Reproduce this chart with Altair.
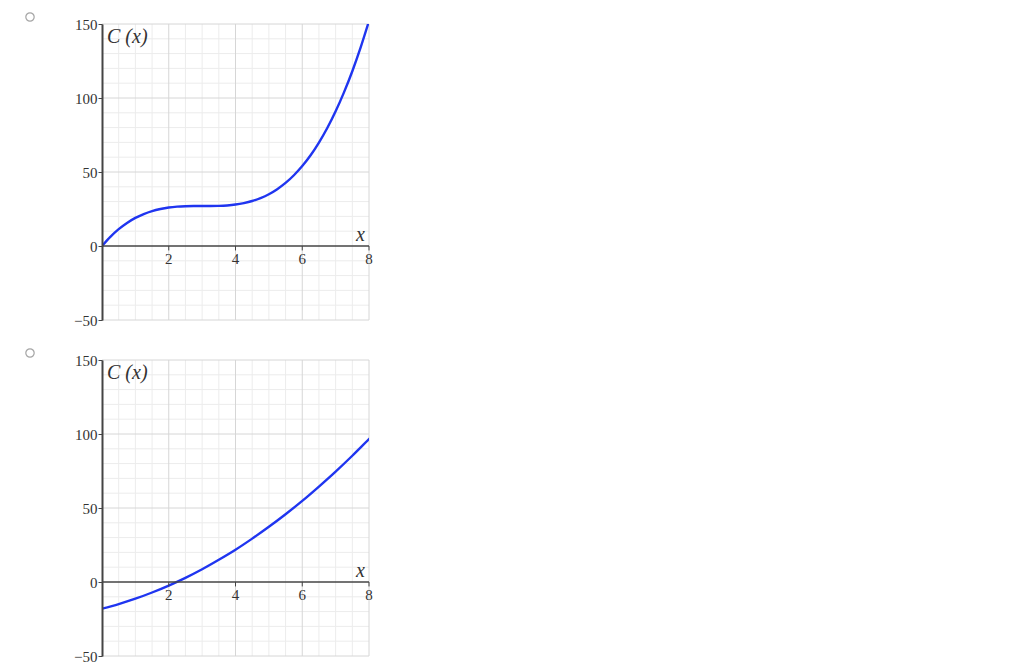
import altair as alt
import pandas as pd

# ---- data ----
xs = [0, 0.25, 0.5, 0.75, 1, 1.25, 1.5, 1.75, 2, 2.25, 2.5, 2.75, 3, 3.25, 3.5, 3.75,
      4, 4.25, 4.5, 4.75, 5, 5.25, 5.5, 5.75, 6, 6.25, 6.5, 6.75, 7, 7.25, 7.5, 7.75, 8]
c_top = [0, 6.2, 11.4, 15.6, 19.0, 21.6, 23.6, 25.0, 26.0, 26.6, 26.9, 27.0, 27.0, 27.0,
         27.1, 27.4, 28.0, 29.0, 30.4, 32.4, 35.0, 38.4, 42.6, 47.8, 54.0, 61.3, 69.9,
         79.7, 91.0, 103.8, 118.1, 134.2, 152.0]
xs_b = [0, 0.5, 1, 1.5, 2, 2.5, 3, 3.5, 4, 4.5, 5, 5.5, 6, 6.5, 7, 7.5, 8, 8.1]
c_bottom = [-18.0, -14.9, -11.3, -7.1, -2.4, 2.8, 8.6, 15.0, 21.8, 29.3, 37.3, 45.8,
            54.8, 64.5, 74.6, 85.3, 96.5, 98.7]

x_ticks = [2, 4, 6, 8]
y_ticks = [-50, 0, 50, 100, 150]
x_minor = [0.5, 1, 1.5, 2.5, 3, 3.5, 4.5, 5, 5.5, 6.5, 7, 7.5]
x_major = [2, 4, 6, 8]
y_minor = [-40, -30, -20, -10, 10, 20, 30, 40, 60, 70, 80, 90, 110, 120, 130, 140]
y_major = [-50, 50, 100, 150]

W, H = 267, 296
xscale = alt.Scale(domain=[0, 8], nice=False, zero=False)
yscale = alt.Scale(domain=[-50, 150], nice=False, zero=False)
SERIF = "'Liberation Serif', 'Times New Roman', 'DejaVu Serif', serif"
AX = "#444444"


def panel(xv, yv):
    curve = pd.DataFrame({"x": xv, "C": yv})
    base = alt.Chart(curve)

    vminor = alt.Chart(pd.DataFrame({"x": x_minor})).mark_rule(
        color="#ececec", strokeWidth=1).encode(x=alt.X("x:Q", scale=xscale, axis=None))
    hminor = alt.Chart(pd.DataFrame({"y": y_minor})).mark_rule(
        color="#ececec", strokeWidth=1).encode(y=alt.Y("y:Q", scale=yscale))
    vmajor = alt.Chart(pd.DataFrame({"x": x_major})).mark_rule(
        color="#d6d6d6", strokeWidth=1).encode(x=alt.X("x:Q", scale=xscale, axis=None))
    hmajor = alt.Chart(pd.DataFrame({"y": y_major})).mark_rule(
        color="#d6d6d6", strokeWidth=1).encode(y=alt.Y("y:Q", scale=yscale))

    xaxis = alt.Chart(pd.DataFrame({"y": [0]})).mark_rule(
        color=AX, strokeWidth=1.5).encode(y=alt.Y("y:Q", scale=yscale))
    tdf = pd.DataFrame({"x": x_ticks, "y0": [0] * 4, "y1": [-3] * 4,
                        "lab": [str(v) for v in x_ticks]})
    xticks = alt.Chart(tdf).mark_rule(color=AX, strokeWidth=1).encode(
        x=alt.X("x:Q", scale=xscale, axis=None),
        y=alt.Y("y0:Q", scale=yscale), y2="y1:Q")
    xlabels = alt.Chart(tdf).mark_text(
        font=SERIF, fontSize=15, color="#333333", baseline="middle", dy=13).encode(
        x=alt.X("x:Q", scale=xscale, axis=None),
        y=alt.Y("y0:Q", scale=yscale), text="lab:N")

    line = base.mark_line(color="#1f35f0", strokeWidth=2.4, clip=True,
                          interpolate="monotone").encode(
        x=alt.X("x:Q", scale=xscale, axis=None),
        y=alt.Y("C:Q", scale=yscale,
                axis=alt.Axis(values=y_ticks, title=None, grid=False,
                              domainColor=AX, domainWidth=2, tickColor=AX,
                              tickSize=4, labelFont=SERIF, labelFontSize=15,
                              labelColor="#333333", labelPadding=1,
                              labelFlush=False, zindex=1)))

    ylab = alt.Chart(pd.DataFrame({"t": ["C (x)"]})).mark_text(
        font=SERIF, fontSize=20, fontStyle="italic", color="#333333",
        align="left", baseline="middle").encode(
        x=alt.value(5), y=alt.value(13), text="t:N")
    xlab = alt.Chart(pd.DataFrame({"x": [8], "y": [0], "t": ["x"]})).mark_text(
        font=SERIF, fontSize=20, fontStyle="italic", color="#333333",
        align="right", baseline="middle", dx=-4, dy=-11).encode(
        x=alt.X("x:Q", scale=xscale, axis=None),
        y=alt.Y("y:Q", scale=yscale), text="t:N")

    radio = alt.Chart(pd.DataFrame({"r": [1]})).mark_point(
        shape="circle", size=70, filled=False, stroke="#808080",
        fill="white", strokeWidth=1.2).encode(
        x=alt.value(-72), y=alt.value(-7))

    return alt.layer(vminor, hminor, vmajor, hmajor, line, xaxis, xticks,
                     xlabels, ylab, xlab, radio).properties(width=W, height=H)


chart = alt.vconcat(panel(xs, c_top), panel(xs_b, c_bottom), spacing=40,
                    bounds="flush").properties(
    padding={"left": 15, "top": 2, "right": 5, "bottom": 5}
).configure_view(stroke=None)

chart.save("out.html", embed_options={"renderer": "svg", "actions": False})
